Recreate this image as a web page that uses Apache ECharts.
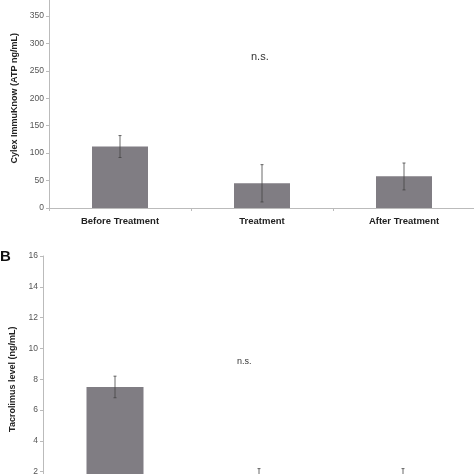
<!DOCTYPE html>
<html>
<head>
<meta charset="utf-8">
<script src="https://cdn.jsdelivr.net/npm/echarts@6/dist/echarts.min.js"></script>
<style>html,body{margin:0;padding:0;background:#fff;overflow:hidden;width:474px;height:474px}#main{width:475px;height:523px;margin-top:-16px}</style>
</head>
<body>
<div id="main"></div>
<script>
const categories = ['Before Treatment', 'Treatment', 'After Treatment']
// panel A: Cylex ImmuKnow
const atpValues = [112, 45, 58]
const atpLow = [92, 11, 33]
const atpHigh = [132, 79, 82]
// panel B: tacrolimus level
const tacValues = [7.5, 1.6, 1.6]
const tacLow = [6.8, 1.0, 1.0]
const tacHigh = [8.2, 2.2, 2.2]

const barColor = '#807d83'
const font = 'Liberation Sans, Arial, sans-serif'

const errData = (low, high) => categories.map((c, i) => [i, low[i], high[i]])

const errRender = (params, api) => {
  const lo = api.coord([api.value(0), api.value(1)])
  const hi = api.coord([api.value(0), api.value(2)])
  const w = 1.5
  const style = { stroke: '#444', lineWidth: 0.8 }
  return {
    type: 'group',
    children: [
      { type: 'line', shape: { x1: lo[0], y1: lo[1], x2: hi[0], y2: hi[1] }, style },
      { type: 'line', shape: { x1: hi[0] - w, y1: hi[1], x2: hi[0] + w, y2: hi[1] }, style },
      { type: 'line', shape: { x1: lo[0] - w, y1: lo[1], x2: lo[0] + w, y2: lo[1] }, style }
    ]
  }
}

const yAxis = (idx, max, interval, name) => ({
  type: 'value', gridIndex: idx, min: 0, max, interval,
  name, nameLocation: 'middle', nameGap: idx === 0 ? 30 : 26,
  nameTextStyle: { fontFamily: font, fontWeight: 'bold', fontSize: 9, color: '#222' },
  axisLine: { show: true, lineStyle: { color: '#bbb' } },
  axisTick: { show: true, length: 3, lineStyle: { color: '#bbb' } },
  axisLabel: { fontFamily: font, fontSize: 8.5, color: '#555', margin: 5 },
  splitLine: { show: false }
})

const xAxis = (idx, showLabels) => ({
  type: 'category', gridIndex: idx, data: categories,
  axisLine: { lineStyle: { color: '#bbb' } },
  axisTick: { show: true, length: 3, lineStyle: { color: '#bbb' } },
  axisLabel: { show: showLabels, fontFamily: font, fontWeight: 'bold', fontSize: 9.5, color: '#222', margin: 8 }
})

const options = {
  animation: false,
  grid: [
    { left: 49, right: 0, top: 0, height: 224 },
    { left: 43, right: 0, top: 272, height: 251 }
  ],
  xAxis: [xAxis(0, true), xAxis(1, false)],
  yAxis: [
    yAxis(0, 400, 50, 'Cylex ImmuKnow (ATP ng/mL)'),
    yAxis(1, 16, 2, 'Tacrolimus level (ng/mL)')
  ],
  graphic: [
    { type: 'text', left: 0, top: 265, style: { text: 'B', font: 'bold 15px ' + font, fill: '#111' } },
    { type: 'text', left: 251, top: 67, style: { text: 'n.s.', font: '11px ' + font, fill: '#333' } },
    { type: 'text', left: 237, top: 373, style: { text: 'n.s.', font: '9px ' + font, fill: '#333' } }
  ],
  series: [
    { type: 'bar', xAxisIndex: 0, yAxisIndex: 0, data: atpValues, barWidth: 56, itemStyle: { color: barColor } },
    { type: 'custom', xAxisIndex: 0, yAxisIndex: 0, data: errData(atpLow, atpHigh), renderItem: errRender, z: 10 },
    { type: 'bar', xAxisIndex: 1, yAxisIndex: 1, data: tacValues, barWidth: 57, itemStyle: { color: barColor } },
    { type: 'custom', xAxisIndex: 1, yAxisIndex: 1, data: errData(tacLow, tacHigh), renderItem: errRender, z: 10 }
  ]
}

const chart = echarts.init(document.getElementById('main'))
chart.setOption(options, true)
</script>
</body>
</html>
